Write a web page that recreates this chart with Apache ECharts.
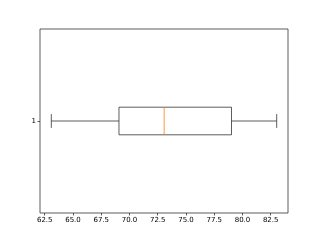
<!DOCTYPE html>
<html><head><meta charset="utf-8">
<script src="https://cdn.jsdelivr.net/npm/echarts@6/dist/echarts.min.js"></script>
<style>html,body{margin:0;padding:0;background:#fff}#c{width:320px;height:240px}</style>
</head><body><div id="c"></div>
<script>
const categories = ['1'];
// [min whisker, Q1, median, Q3, max whisker]
const boxStats = [[63.08, 69.07, 73.07, 79.03, 83.03]];
const tickValues = [62.5, 65.0, 67.5, 70.0, 72.5, 75.0, 77.5, 80.0, 82.5];
const xMin = 62.08, xMax = 84.03;

const chart = echarts.init(document.getElementById('c'), null, {renderer: 'canvas'});
const lineColor = '#333';
chart.setOption({
  animation: false,
  grid: {left: 40, right: 32, top: 29, bottom: 27, show: true, borderColor: lineColor, borderWidth: 0.8, backgroundColor: 'transparent'},
  xAxis: {
    type: 'value', min: xMin, max: xMax,
    splitLine: {show: false},
    axisLine: {show: false},
    axisTick: {show: true, length: 2.5, customValues: tickValues, lineStyle: {color: lineColor, width: 0.8}},
    axisLabel: {customValues: tickValues, fontFamily: 'DejaVu Sans', fontSize: 7, color: '#000', margin: 4,
      formatter: v => v.toFixed(1)}
  },
  yAxis: {
    type: 'category', data: categories,
    axisLine: {show: false},
    axisTick: {show: true, length: 2.5, alignWithLabel: true, lineStyle: {color: lineColor, width: 0.8}},
    axisLabel: {fontFamily: 'DejaVu Sans', fontSize: 7, color: '#000', margin: 4},
    splitLine: {show: false}
  },
  series: [{
    type: 'custom',
    data: boxStats.map((s, i) => [i].concat(s)),
    encode: {x: [1, 2, 3, 4, 5], y: 0},
    renderItem: function (params, api) {
      const idx = api.value(0);
      const band = api.size([0, 1])[1];
      const hb = band * 0.075, hc = band * 0.0375;
      const p = [1, 2, 3, 4, 5].map(k => api.coord([api.value(k), idx]));
      const y = p[0][1];
      const st = {stroke: lineColor, lineWidth: 0.8, fill: null};
      return {type: 'group', children: [
        {type: 'line', shape: {x1: p[0][0], y1: y, x2: p[1][0], y2: y}, style: st},
        {type: 'line', shape: {x1: p[3][0], y1: y, x2: p[4][0], y2: y}, style: st},
        {type: 'line', shape: {x1: p[0][0], y1: y - hc, x2: p[0][0], y2: y + hc}, style: st},
        {type: 'line', shape: {x1: p[4][0], y1: y - hc, x2: p[4][0], y2: y + hc}, style: st},
        {type: 'rect', shape: {x: p[1][0], y: y - hb, width: p[3][0] - p[1][0], height: 2 * hb}, style: {stroke: lineColor, lineWidth: 0.8, fill: 'transparent'}},
        {type: 'line', shape: {x1: p[2][0], y1: y - hb, x2: p[2][0], y2: y + hb}, style: {stroke: '#ff7f0e', lineWidth: 0.8}}
      ]};
    }
  }]
});
</script></body></html>
